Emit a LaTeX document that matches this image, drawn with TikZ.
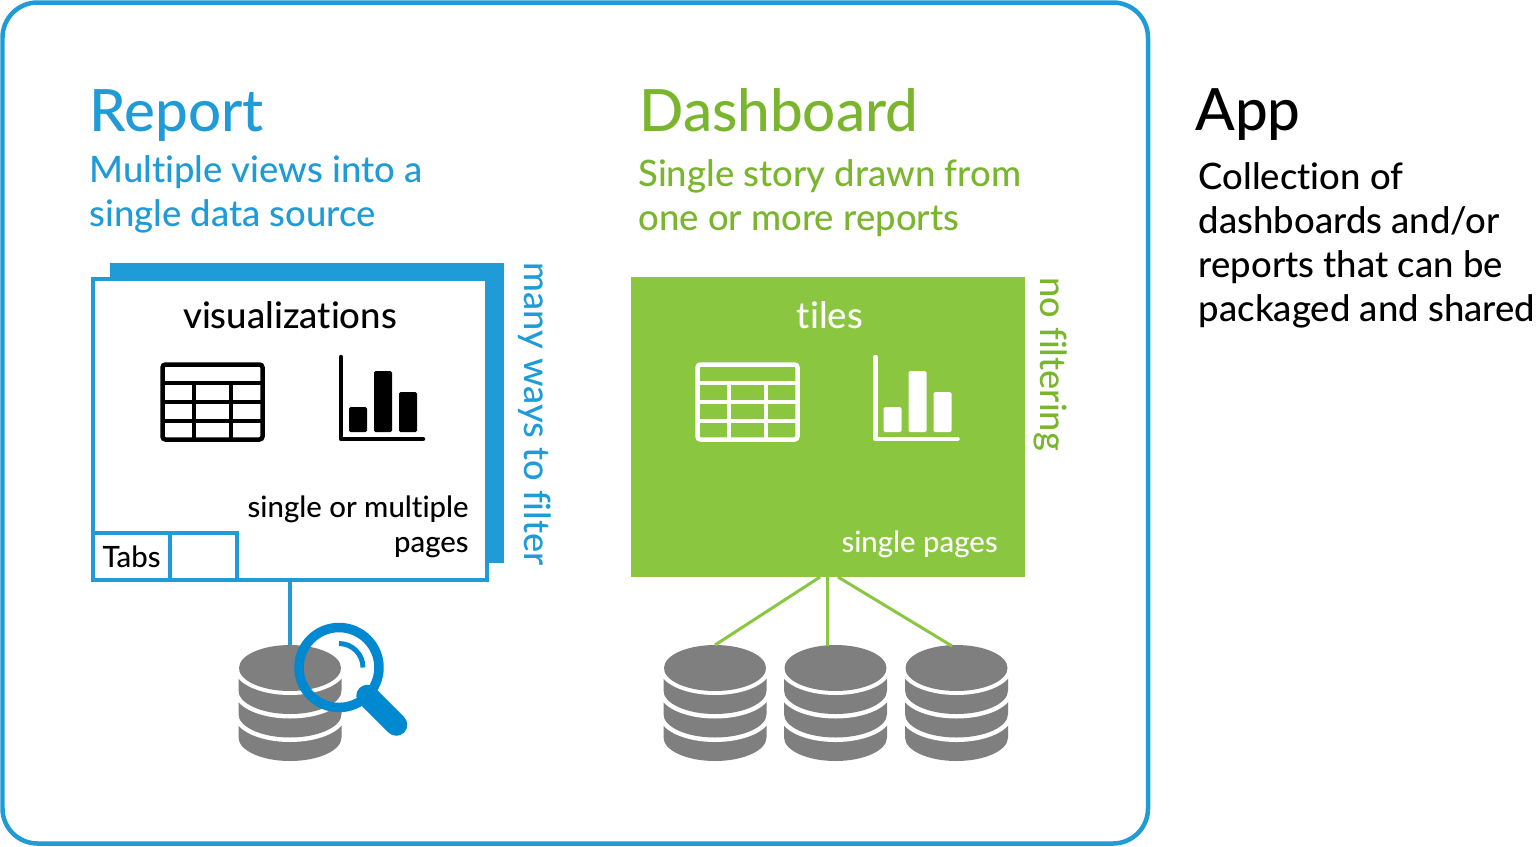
\documentclass[tikz,border=0pt]{standalone}
\usepackage{fontspec}
\setmainfont{Lato Medium}[Ligatures=CommonOff]
\usetikzlibrary{positioning}
\definecolor{repblue}{HTML}{1F9BD7}
\definecolor{dashgreen}{HTML}{8AC640}
\definecolor{dashtext}{HTML}{7AB52E}
\definecolor{dbgray}{HTML}{7F7F7F}
\definecolor{lensblue}{HTML}{0089D0}
\tikzstyle{title} = [anchor=base west, inner sep=0pt, font=\fontsize{33.2}{40}\selectfont]
\tikzstyle{subtitle} = [anchor=north west, inner sep=0pt, align=left, font=\fontsize{20.75}{25}\selectfont]
\tikzstyle{sidelabel} = [anchor=base west, inner sep=0pt, rotate=-90, font=\fontsize{20.6}{26}\selectfont]
\tikzstyle{small} = [inner sep=0pt, font=\fontsize{16.7}{20}\selectfont]
\tikzstyle{pane} = [rectangle, inner sep=0pt, outer sep=0pt, minimum width=7.88cm, minimum height=6cm]
\tikzstyle{tabbox} = [rectangle, draw=repblue, line width=0.085cm, inner sep=0pt, outer sep=0pt, minimum height=0.94cm]
\tikzstyle{bluelink} = [draw=repblue, line width=0.085cm]
\tikzstyle{greenlink} = [draw=dashgreen, line width=0.06cm]
\tikzset{
  tableicon/.pic={
    \draw [#1, line width=0.09cm, rounded corners=0.06cm] (-50,-37.5) rectangle (50,37.5);
    \draw [#1, line width=0.09cm] (-50,19) -- (50,19) (-50,0) -- (50,0) (-50,-19) -- (50,-19);
    \draw [#1, line width=0.09cm] (-18.5,19) -- (-18.5,-37.5) (18.5,19) -- (18.5,-37.5);
  },
  chartpic/.pic={
    \draw [#1, line width=0.09cm, line cap=round, line join=round] (0,82) -- (0,0) -- (82,0);
    \fill [#1, rounded corners=0.03cm] (8,7) rectangle (26,32);
    \fill [#1, rounded corners=0.03cm] (33,7) rectangle (51,68);
    \fill [#1, rounded corners=0.03cm] (58,7) rectangle (76,47);
  },
  dbstack/.pic={
    \node (-box) [inner sep=0pt, outer sep=0pt, minimum width=2.04cm, minimum height=2.32cm] at (0,0) {};
    \foreach \yy in {-34.5,-11,12.5} {
      \fill [dbgray] (-51.5,\yy+20) -- (-51.5,\yy) arc [start angle=180, end angle=360, x radius=51.5, y radius=23.5] -- (51.5,\yy+20) -- cycle;
      \draw [white, line width=0.1cm] (-54,\yy+23.5) arc [start angle=180, end angle=360, x radius=54, y radius=25.5];
    }
    \fill [dbgray] (0,35) ellipse [x radius=51, y radius=23];
  }
}
\begin{document}
\begin{tikzpicture}[x=0.02cm, y=0.02cm]
\useasboundingbox (0,0) rectangle (1536,-846);
\draw [repblue, line width=0.09cm, rounded corners=0.7cm] (2.5,-2.5) rectangle (1148,-843.5);
% report
\node (rep) [title, text=repblue] at (89,-131) {Report};
\node (repsub) [subtitle, text=repblue] at (89,-155) {Multiple views into a\\single data source};
\node (repback) [pane, fill=repblue] at (307,-413) {};
\node (rephead) [pane, fill=white, draw=repblue, line width=0.085cm, minimum height=6.02cm] at (290,-429.5) {};
\node (vis) [anchor=base, inner sep=0pt, font=\fontsize{20.8}{25}\selectfont] at (290,-328) {visualizations};
\pic at (212.5,-402) {tableicon=black};
\pic at (341,-439) {chartpic=black};
\node (pages) [small, anchor=north east, align=right] at (469,-495) {single or multiple\\pages};
\node (tab1) [tabbox, minimum width=1.54cm, small] at (131.5,-556.5) {Tabs};
\node (tab2) [tabbox, minimum width=1.34cm, right=0pt of tab1] {};
\node (filt) [sidelabel, text=repblue] at (524,-262) {many ways to filter};
\pic (dbr) at (290,-703) {dbstack};
\draw [bluelink] (rephead.south) -- (dbr-box.north);
% magnifier
\node (lens) [circle, draw=lensblue, line width=0.19cm, minimum size=1.6cm, inner sep=0pt, outer sep=0pt] at (339,-667.5) {};
\draw [lensblue, line width=0.44cm, line cap=round] (lens.-45) -- ++(29,-29);
\draw [lensblue, line width=0.1cm] (339,-643.5) arc [start angle=90, end angle=0, radius=24];
% dashboard
\node (dash) [title, text=dashtext] at (639,-131) {Dashboard};
\node (dashsub) [subtitle, text=dashtext] at (638,-159) {Single story drawn from\\one or more reports};
\node (tiles) [pane, fill=dashgreen] at (828,-427) {};
\node (til) [anchor=base, inner sep=0pt, text=white, font=\fontsize{20.8}{25}\selectfont] at (830,-328) {tiles};
\pic at (747.5,-402) {tableicon=white};
\pic at (875.5,-439) {chartpic=white};
\node (sing) [small, anchor=base east, text=white] at (998,-552) {single pages};
\node (nofilt) [sidelabel, text=dashtext] at (1040,-277) {no filtering};
\pic (db1) at (715,-703) {dbstack};
\pic (db2) at (835.5,-703) {dbstack};
\pic (db3) at (956.5,-703) {dbstack};
\coordinate (tapa) at (820,-577);
\coordinate (tapb) at (827,-577);
\coordinate (tapc) at (838,-577);
\coordinate (topb) at (827,-646);
\coordinate (topc) at (952,-646);
\draw [greenlink] (tapa) -- (db1-box.north);
\draw [greenlink] (tapb) -- (topb);
\draw [greenlink] (tapc) -- (topc);
% app
\node (app) [title, text=black] at (1195,-130) {App};
\node (appsub) [subtitle, text=black] at (1198.5,-162) {Collection of\\dashboards and/or\\reports that can be\\packaged and shared};
\end{tikzpicture}
\end{document}
